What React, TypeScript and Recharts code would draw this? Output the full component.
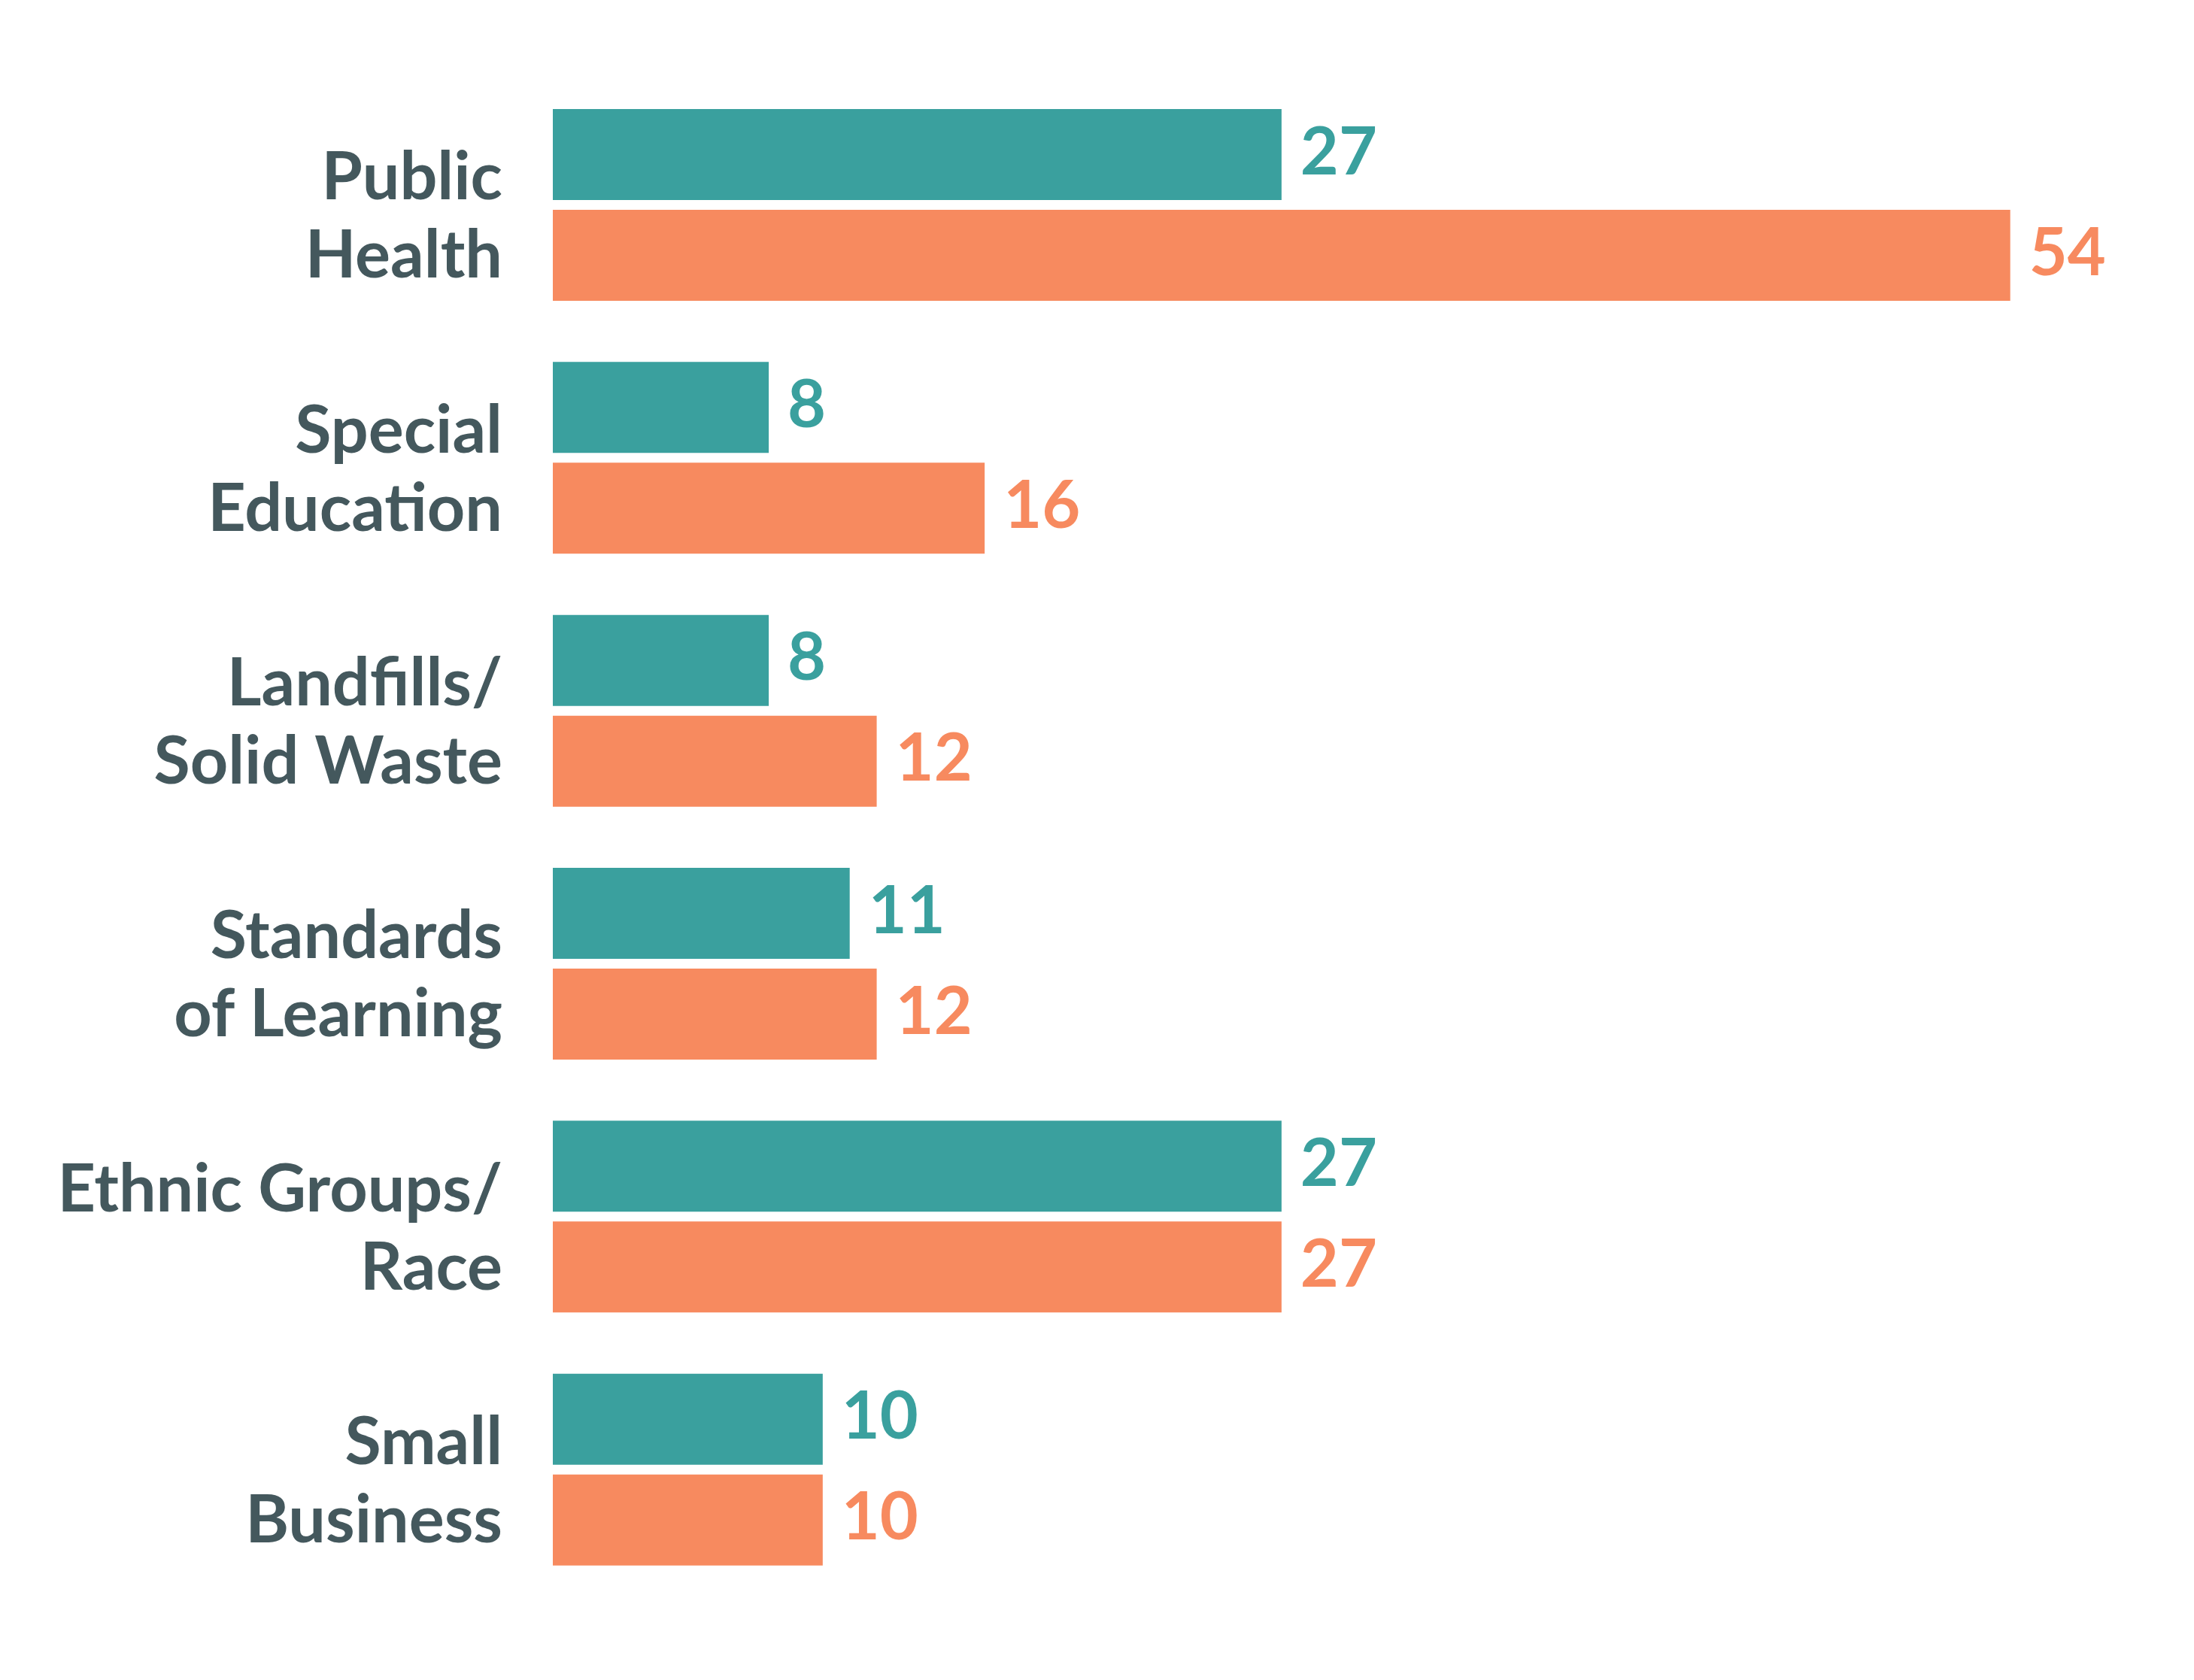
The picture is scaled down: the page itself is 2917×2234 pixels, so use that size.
import { Bar, BarChart, LabelList, XAxis, YAxis } from 'recharts';

const categories = [
  'Public\nHealth',
  'Special\nEducation',
  'Landfills/\nSolid Waste',
  'Standards\nof Learning',
  'Ethnic Groups/\nRace',
  'Small\nBusiness',
];
const tealValues = [27, 8, 8, 11, 27, 10];
const orangeValues = [54, 16, 12, 12, 27, 10];

const TEAL = '#3aa09e';
const ORANGE = '#f78a5f';
const TEXT = '#44585d';
const FONT = 'Lato, "Open Sans", sans-serif';

const data = categories.map((name, i) => ({
  name,
  teal: tealValues[i],
  orange: orangeValues[i],
}));

function CategoryTick({ x, y, payload }: any) {
  const lines = String(payload.value).split('\n');
  return (
    <text
      x={x}
      y={y}
      textAnchor="end"
      fill={TEXT}
      fontFamily={FONT}
      fontWeight={700}
      fontSize={88}
    >
      {lines.map((line, i) => (
        <tspan key={i} x={x} y={y - 7 + i * 104}>
          {line}
        </tspan>
      ))}
    </text>
  );
}

function valueLabel(color: string) {
  return ({ x, y, width, height, value }: any) => (
    <text
      x={x + width + 25}
      y={y + height / 2 + 26}
      fill={color}
      fontFamily={FONT}
      fontWeight={700}
      fontSize={88}
    >
      {value}
    </text>
  );
}

export default function App() {
  return (
    <div style={{ position: 'absolute', left: 0, top: 0, background: '#fff' }}>
      <BarChart
        width={2917}
        height={2234}
        data={data}
        layout="vertical"
        margin={{ top: 104, right: 29, bottom: 112, left: 0 }}
        barSize={121}
        barGap={13}
      >
        <XAxis type="number" domain={[0, 60]} hide />
        <YAxis
          type="category"
          dataKey="name"
          width={735}
          axisLine={false}
          tickLine={false}
          tickSize={0}
          tickMargin={67}
          interval={0}
          tick={<CategoryTick />}
        />
        <Bar dataKey="teal" fill={TEAL} isAnimationActive={false}>
          <LabelList dataKey="teal" content={valueLabel(TEAL)} />
        </Bar>
        <Bar dataKey="orange" fill={ORANGE} isAnimationActive={false}>
          <LabelList dataKey="orange" content={valueLabel(ORANGE)} />
        </Bar>
      </BarChart>
    </div>
  );
}
